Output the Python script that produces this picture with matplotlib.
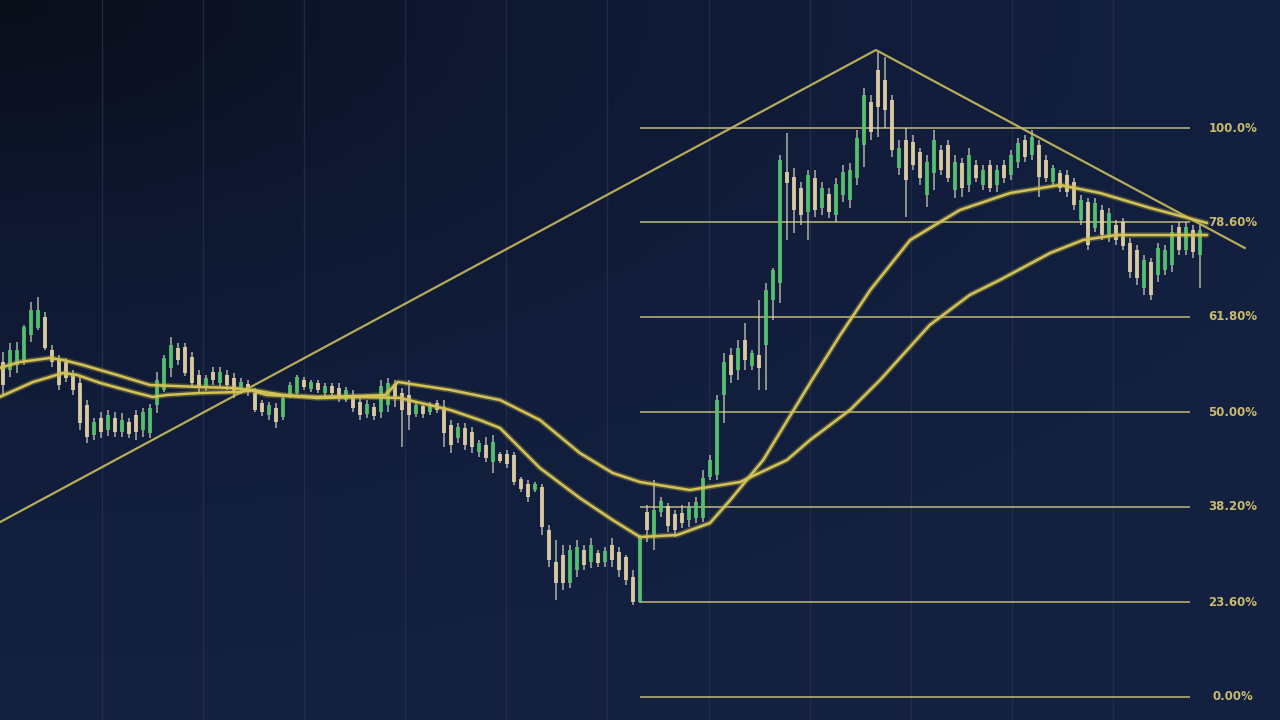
import matplotlib
matplotlib.use("Agg")
import matplotlib.pyplot as plt
import numpy as np
from matplotlib.colors import LinearSegmentedColormap

# ---- candle data (one candle per session) ----
opens = [35.8, 35.0, 35.5, 36.0, 38.5, 39.2, 40.3, 37.0, 36.0, 35.8,
         34.5, 33.7, 31.5, 28.5, 30.2, 29.0, 30.2, 28.8, 29.8, 30.5,
         29.0, 28.7, 31.5, 33.0, 35.2, 37.2, 37.3, 36.3, 34.5, 33.4,
         34.8, 33.7, 34.5, 34.2, 33.0, 33.6, 32.7, 31.7, 30.5, 31.2,
         30.3, 32.5, 32.7, 34.0, 33.1, 33.7, 32.7, 33.4, 33.2, 32.0,
         32.5, 31.8, 30.6, 31.3, 30.8, 31.5, 33.6, 32.7, 32.5, 30.6,
         31.4, 30.8, 31.7, 31.3, 29.5, 28.2, 29.2, 28.8, 26.8, 27.5,
         25.8, 26.6, 26.6, 26.5, 24.1, 23.6, 23.0, 23.3, 19.0, 15.8,
         16.5, 13.7, 15.0, 17.0, 15.8, 16.7, 15.8, 17.5, 16.8, 16.3,
         14.3, 11.8, 20.8, 18.3, 20.8, 21.4, 20.6, 20.7, 20.0, 20.2,
         20.2, 24.3, 24.5, 32.5, 36.5, 35.0, 38.0, 35.4, 36.5, 37.5,
         42.0, 43.7, 54.8, 54.3, 53.2, 50.8, 54.2, 51.2, 52.6, 50.5,
         52.5, 52.0, 54.2, 57.5, 61.8, 65.0, 64.0, 62.0, 55.2, 58.0,
         57.8, 56.8, 52.5, 54.7, 57.0, 57.5, 53.0, 55.7, 53.5, 55.5,
         53.5, 55.5, 53.5, 55.5, 54.5, 55.8, 58.0, 56.5, 57.5, 56.0,
         53.8, 54.7, 54.5, 53.8, 50.0, 51.8, 49.2, 51.0, 48.4, 49.5,
         49.8, 47.7, 47.0, 43.2, 45.8, 44.5, 45.0, 45.5, 49.3, 47.0,
         49.0, 46.5]
closes = [33.5, 37.0, 37.0, 39.3, 41.0, 41.0, 37.2, 35.8, 33.5, 34.2,
          33.0, 29.7, 28.3, 29.8, 28.8, 30.5, 28.8, 30.0, 28.6, 28.8,
          30.8, 31.2, 34.0, 36.2, 37.5, 36.0, 34.7, 33.7, 33.3, 34.2,
          34.0, 34.8, 33.5, 32.8, 33.8, 32.8, 31.0, 30.8, 31.5, 29.8,
          32.2, 33.5, 34.3, 33.3, 33.8, 33.0, 33.4, 32.7, 32.2, 33.0,
          31.2, 30.5, 31.6, 30.4, 33.4, 33.7, 32.2, 31.0, 30.5, 31.5,
          30.6, 31.5, 31.0, 28.7, 27.5, 29.3, 27.5, 27.3, 27.7, 26.2,
          27.8, 25.9, 25.6, 23.8, 23.1, 22.3, 23.6, 19.3, 16.0, 13.7,
          13.7, 17.0, 17.3, 15.5, 17.5, 15.7, 16.9, 16.0, 15.0, 14.0,
          11.8, 18.3, 19.0, 21.0, 21.9, 19.4, 19.0, 19.7, 21.3, 21.8,
          24.2, 26.0, 32.0, 35.8, 34.5, 37.2, 36.0, 36.7, 35.2, 43.0,
          45.0, 56.0, 53.7, 51.0, 50.5, 54.5, 51.0, 53.2, 50.8, 53.6,
          54.8, 55.0, 58.2, 62.5, 58.8, 61.3, 61.0, 57.0, 57.2, 54.0,
          55.5, 54.2, 55.8, 58.0, 55.0, 54.2, 55.8, 53.2, 56.5, 54.2,
          55.0, 53.2, 55.0, 54.2, 56.5, 57.7, 56.3, 58.3, 54.3, 54.2,
          55.2, 53.2, 52.8, 51.5, 52.0, 47.5, 51.7, 48.5, 50.7, 48.0,
          47.4, 44.8, 44.2, 46.0, 42.5, 47.2, 47.0, 48.8, 47.0, 49.3,
          46.8, 49.0]
highs = [36.8, 37.7, 37.8, 39.5, 41.8, 42.3, 40.8, 37.5, 36.5, 36.2,
         35.0, 34.3, 32.0, 30.2, 30.8, 31.0, 30.8, 30.7, 30.2, 31.0,
         31.2, 31.6, 34.8, 36.5, 38.3, 37.7, 37.7, 36.8, 35.0, 34.5,
         35.3, 35.3, 35.0, 34.7, 34.2, 34.0, 33.2, 32.0, 31.8, 31.7,
         32.5, 33.8, 34.5, 34.3, 34.0, 34.0, 33.7, 33.7, 33.7, 33.3,
         33.0, 32.3, 32.0, 31.7, 34.0, 34.2, 34.0, 33.2, 34.0, 31.7,
         31.7, 31.8, 32.0, 32.0, 30.0, 29.7, 29.7, 29.3, 28.0, 28.3,
         28.5, 26.8, 27.0, 26.8, 24.3, 24.0, 23.8, 23.6, 19.5, 18.0,
         17.5, 17.5, 18.0, 17.5, 18.2, 17.0, 17.3, 18.2, 17.3, 16.5,
         15.0, 18.5, 21.5, 24.0, 22.3, 21.7, 21.0, 21.5, 21.8, 22.3,
         25.0, 26.5, 32.5, 36.7, 37.2, 38.0, 39.7, 37.0, 42.0, 43.7,
         45.2, 56.5, 58.7, 55.2, 53.8, 55.0, 55.0, 53.8, 53.2, 54.2,
         55.5, 55.7, 59.0, 63.2, 62.5, 66.8, 66.3, 62.5, 58.0, 59.2,
         58.5, 57.2, 56.5, 59.0, 57.5, 58.0, 56.5, 56.2, 57.2, 56.0,
         55.5, 56.0, 55.5, 56.0, 57.0, 58.2, 58.5, 59.0, 58.0, 56.5,
         55.5, 55.0, 55.0, 54.2, 52.5, 52.2, 52.2, 51.5, 51.2, 50.0,
         50.2, 48.2, 47.5, 46.5, 46.2, 47.7, 47.5, 49.5, 49.8, 49.8,
         49.5, 49.5]
lows = [32.5, 34.3, 34.7, 35.5, 37.8, 39.0, 37.0, 35.3, 33.0, 33.8,
        32.5, 29.0, 27.7, 28.0, 28.2, 28.4, 28.3, 28.3, 28.2, 28.0,
        28.3, 28.2, 30.7, 32.8, 34.3, 35.5, 34.4, 33.4, 32.8, 32.9,
        33.5, 33.2, 33.0, 32.2, 32.6, 32.4, 30.8, 30.4, 30.0, 29.2,
        30.0, 32.2, 32.5, 33.0, 32.8, 32.7, 32.4, 32.4, 31.8, 31.8,
        30.8, 30.0, 30.2, 30.0, 30.2, 30.8, 31.3, 27.3, 29.0, 30.3,
        30.2, 30.5, 30.7, 27.3, 26.7, 27.7, 27.0, 26.7, 26.3, 25.8,
        24.7, 25.7, 25.2, 23.5, 22.8, 21.8, 22.8, 18.5, 15.3, 12.0,
        13.0, 13.2, 14.3, 15.0, 15.2, 15.3, 15.3, 15.3, 14.3, 13.5,
        11.5, 11.7, 17.8, 17.0, 20.3, 18.8, 18.3, 19.2, 19.3, 19.7,
        19.8, 24.0, 24.0, 29.7, 33.7, 34.0, 35.0, 35.0, 33.0, 33.0,
        40.0, 41.7, 48.0, 48.7, 49.5, 48.0, 50.3, 50.5, 50.2, 49.8,
        51.8, 51.2, 53.5, 55.3, 58.0, 58.3, 59.2, 56.3, 54.5, 50.3,
        55.0, 53.5, 51.3, 53.0, 54.5, 53.8, 52.2, 52.3, 52.8, 53.8,
        53.0, 52.8, 52.8, 53.7, 54.0, 55.2, 55.8, 56.0, 52.3, 53.8,
        53.5, 52.8, 52.3, 51.0, 49.5, 47.0, 48.8, 48.0, 47.8, 47.5,
        47.0, 44.2, 43.5, 42.5, 42.0, 43.8, 44.5, 44.8, 46.5, 46.5,
        46.2, 43.2]

# ---- moving averages at knots (candle index, price) ----
fast_idx = [-0.5, 4.3, 8.6, 10.6, 13.9, 18.6, 21.4, 23.4, 28.1, 33.9,
            35.7, 40.0, 44.9, 51.0, 56.7, 63.9, 68.1, 71.0, 76.7, 82.4,
            87.1, 91.0, 96.3, 101.0, 103.9, 108.6, 115.3, 119.6, 123.9, 129.6,
            136.7, 143.9, 151.0, 156.7, 163.9, 172.0]
fast_ma = [32.3, 33.8, 34.7, 34.5, 33.7, 32.8, 32.3, 32.5, 32.7, 32.8,
           33.0, 32.5, 32.2, 32.3, 32.2, 31.0, 30.0, 29.2, 25.2, 22.2,
           20.0, 18.3, 18.5, 19.7, 22.0, 26.0, 33.7, 38.5, 43.0, 48.0,
           51.0, 52.7, 53.5, 52.7, 51.2, 49.7]
slow_idx = [-0.5, 2.4, 6.7, 8.6, 11.4, 16.3, 21.0, 28.1, 32.9, 35.3,
            37.7, 44.9, 51.0, 54.6, 56.4, 63.9, 71.0, 76.7, 82.4, 87.1,
            91.0, 98.1, 105.3, 112.0, 115.3, 121.0, 125.3, 132.4, 138.1, 142.4,
            149.6, 154.3, 159.1, 172.0]
slow_ma = [35.2, 35.8, 36.2, 36.0, 35.5, 34.5, 33.5, 33.3, 33.2, 33.0,
           32.5, 32.3, 32.4, 32.5, 33.8, 33.0, 32.0, 30.0, 26.7, 24.7,
           23.8, 23.0, 23.8, 26.0, 28.0, 31.0, 34.0, 39.5, 42.5, 44.0,
           46.7, 48.0, 48.5, 48.5]

# ---- drawing tools ----
trend_idx = [-0.4, 124.7, 177.4]
trend_price = [19.8, 67.0, 47.2]
fib_start, fib_end = 91.0, 169.6
fib_prices = [59.2, 49.8, 40.3, 30.8, 21.3, 11.8, 2.3]
fib_labels = ["100.0%", "78.60%", "61.80%", "50.00%", "38.20%", "23.60%", "0.00%"]

# ---- figure ----
fig = plt.figure(figsize=(12.8, 7.2), dpi=100)
ax = fig.add_axes([0, 0, 1, 1])
x0, x1 = -3 / 7, 1277 / 7

# dark navy background: darkest in the top-left corner
gx, gy = np.meshgrid(np.linspace(0, 1, 200), np.linspace(0, 1, 120))
shade = np.clip(np.sqrt((gx * 1.1) ** 2 + (gy * 1.3) ** 2) / 1.2, 0, 1)
bg_cmap = LinearSegmentedColormap.from_list("bg", ["#0a0e19", "#0f1830", "#111d3b", "#13203f"])
ax.imshow(shade, cmap=bg_cmap, extent=[x0, x1, 0, 72], aspect="auto",
          origin="upper", zorder=0, vmin=0, vmax=1)
ax.set_xlim(x0, x1)
ax.set_ylim(0, 72)
ax.axis("off")

# faint vertical grid
for gxp in np.arange(14.1, 172, 14.45):
    ax.axvline(gxp, color="#27314f", lw=1.0, alpha=0.75, zorder=1)

idx = np.arange(len(opens))
o = np.array(opens)
c = np.array(closes)
up = c >= o
body_col = np.where(up, "#52c46c", "#e4d2a4")

# wicks + bodies
ax.vlines(idx, lows, highs, color="#d2cfbc", lw=1.3, alpha=0.7, zorder=3)
ax.bar(idx, np.abs(c - o), bottom=np.minimum(o, c), width=0.55,
       color=body_col, alpha=0.88, zorder=4)

# fibonacci levels
for lvl, lab in zip(fib_prices, fib_labels):
    ax.hlines(lvl, fib_start, fib_end, color="#c9c27e", lw=1.3, alpha=0.8, zorder=2)
    ax.text(175.7, lvl, lab, color="#c8ba6e", fontsize=8.5, fontweight="bold",
            ha="center", va="center", zorder=6)

# trend lines
ax.plot(trend_idx, trend_price, color="#c9bb5e", lw=1.6, alpha=0.9, zorder=5)

# moving averages with a soft glow
for xs, ys in [(fast_idx, fast_ma), (slow_idx, slow_ma)]:
    ax.plot(xs, ys, color="#bfae3c", lw=4.0, alpha=0.35, zorder=5,
            solid_joinstyle="round", solid_capstyle="round")
    ax.plot(xs, ys, color="#d3c256", lw=1.8, zorder=6,
            solid_joinstyle="round", solid_capstyle="round")

fig.savefig("out.png", dpi=100, facecolor="#0d1322")
